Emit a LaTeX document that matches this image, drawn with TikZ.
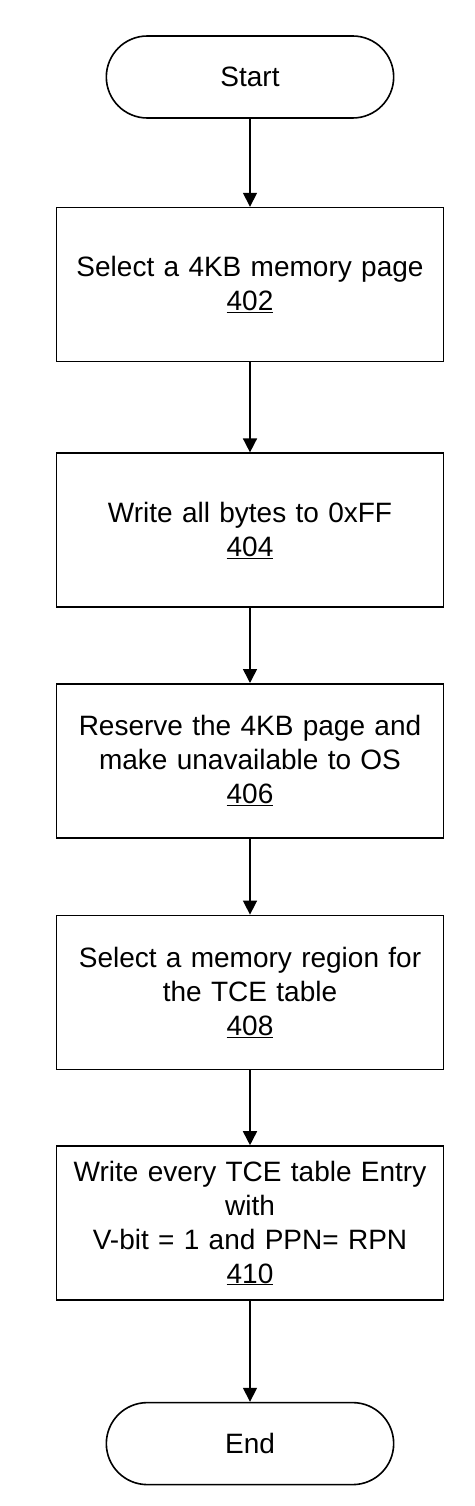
\documentclass[tikz,border=0pt]{standalone}
\usepackage{fontspec}
\setmainfont{Liberation Sans}
\usetikzlibrary{shapes.misc, arrows.meta, positioning}

\begin{document}
\begin{tikzpicture}[
                    every node/.style={align=center, font=\fontsize{28}{34}\selectfont, line width=1.6pt},
                    terminal/.style={draw, rounded rectangle, minimum width=294pt, minimum height=82pt},
                    stepbox/.style={draw, rectangle, minimum width=387pt, minimum height=154pt, text width=370pt},
                    flow/.style={-{Triangle[length=14pt, width=14pt]}, line width=1.6pt}
                    ]

                    \useasboundingbox (0,0) rectangle (474pt,-1506pt);

                    \node[terminal] (start) at (250pt,-77pt) {Start};
                    \node[stepbox, below=88pt of start] (selectpage) {Select a 4KB memory page\\ \underline{402}};
                    \node[stepbox, below=90pt of selectpage] (writeff) {Write all bytes to 0xFF\\ \underline{404}};
                    \node[stepbox, below=75pt of writeff] (reserve) {Reserve the 4KB page and\\ make unavailable to OS\\ \underline{406}};
                    \node[stepbox, below=76pt of reserve] (selectregion) {Select a memory region for\\ the TCE table\\ \underline{408}};
                    \node[stepbox, below=75pt of selectregion] (writetce) {Write every TCE table Entry\\ with\\ V-bit = 1 and PPN= RPN\\ \underline{410}};
                    \node[terminal, below=101pt of writetce] (end) {End};

                    \draw[flow] (start) -- (selectpage);
                    \draw[flow] (selectpage) -- (writeff);
                    \draw[flow] (writeff) -- (reserve);
                    \draw[flow] (reserve) -- (selectregion);
                    \draw[flow] (selectregion) -- (writetce);
                    \draw[flow] (writetce) -- (end);

                  \end{tikzpicture}
\end{document}
